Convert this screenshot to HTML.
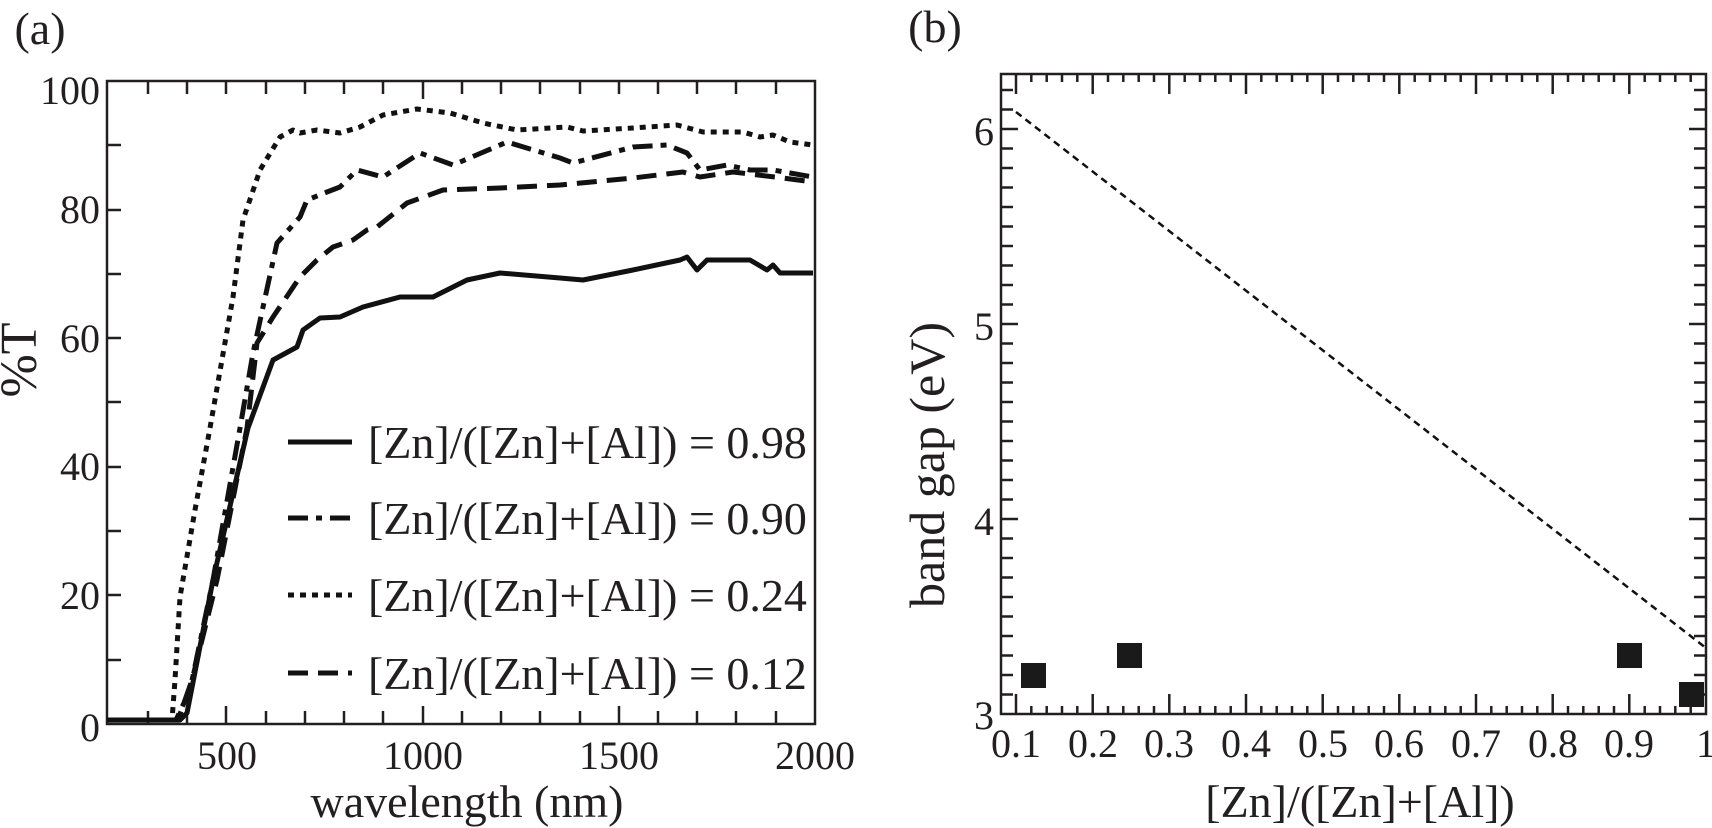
<!DOCTYPE html>
<html><head><meta charset="utf-8"><style>
html,body{margin:0;padding:0;background:#fff;}
svg{display:block;}
text{font-family:"Liberation Serif",serif;fill:#231f20;}
</style></head><body>
<svg width="1712" height="828" viewBox="0 0 1712 828" xmlns="http://www.w3.org/2000/svg">
<g stroke="#231f20" fill="none">
<rect x="107" y="81" width="708" height="643" stroke-width="2.5"/>
<g stroke-width="2.5">
<path d="M 148 724 v-13 M 187 724 v-13 M 226 724 v-18 M 266 724 v-13 M 305 724 v-13 M 344 724 v-13 M 383 724 v-13 M 423 724 v-18 M 462 724 v-13 M 501 724 v-13 M 540 724 v-13 M 580 724 v-13 M 619 724 v-18 M 658 724 v-13 M 697 724 v-13 M 736 724 v-13 M 776 724 v-13"/>
<path d="M 148 81 v13 M 187 81 v13 M 226 81 v13 M 266 81 v13 M 305 81 v13 M 344 81 v13 M 383 81 v13 M 423 81 v18 M 462 81 v13 M 501 81 v13 M 540 81 v13 M 580 81 v13 M 619 81 v13 M 658 81 v13 M 697 81 v13 M 736 81 v13 M 776 81 v13"/>
<path d="M 107 660 h14 M 107 595 h14 M 107 531 h14 M 107 467 h14 M 107 402 h14 M 107 338 h14 M 107 274 h14 M 107 210 h14 M 107 145 h14"/>
</g>
<g stroke="#111" stroke-width="5" stroke-linejoin="round">
<path stroke-dasharray="6 6" d="M107 720 L172 720 L175 680 L180 597 L195 510 L210 428 L233 297 L243 220 L260 170 L280 137 L293 130 L300 133 L317 130 L340 133 L360 127 L383 115 L417 109 L450 113 L483 123 L517 130 L567 127 L583 131 L633 128 L677 125 L703 132 L743 132 L760 137 L773 135 L790 142 L813 145"/>
<path stroke-dasharray="20 8 6 8" d="M107 720 L176 720 L190 690 L213 580 L240 428 L253 353 L277 243 L300 217 L307 200 L327 192 L340 187 L357 170 L383 177 L420 153 L453 165 L507 142 L560 158 L573 163 L633 147 L667 145 L687 153 L700 170 L727 165 L750 170 L773 170 L813 177"/>
<path stroke-dasharray="20 10" d="M107 720 L178 720 L192 680 L217 580 L247 428 L257 343 L273 317 L300 277 L317 260 L333 247 L353 240 L367 230 L377 227 L407 203 L443 190 L500 188 L560 185 L633 178 L683 172 L700 177 L733 172 L783 178 L813 182"/>
<path d="M107 720 L180 720 L187 713 L213 580 L248 428 L273 360 L297 347 L303 330 L320 318 L340 317 L363 307 L400 297 L433 297 L467 280 L500 273 L560 278 L583 280 L633 270 L680 260 L687 257 L697 270 L707 260 L750 260 L767 270 L773 265 L780 273 L813 273"/>
</g>
<g stroke="#111" stroke-width="5">
<path d="M288 442 H352"/>
<path d="M288 518 H352" stroke-dasharray="20 8 6 8"/>
<path d="M288 595 H352" stroke-dasharray="6 6"/>
<path d="M288 673 H352" stroke-dasharray="20 10"/>
</g>

<rect x="1001" y="74" width="705" height="640" stroke-width="2.5"/>
<g stroke-width="2.5">
<path d="
M1016 714 v-20 M1031.3 714 v-8 M1046.7 714 v-8 M1062 714 v-8 M1077.3 714 v-8
M1092.7 714 v-20 M1108 714 v-8 M1123.3 714 v-8 M1138.7 714 v-8 M1154 714 v-8
M1169.3 714 v-20 M1184.7 714 v-8 M1200 714 v-8 M1215.3 714 v-8 M1230.7 714 v-8
M1246 714 v-20 M1261.3 714 v-8 M1276.7 714 v-8 M1292 714 v-8 M1307.3 714 v-8
M1322.7 714 v-20 M1338 714 v-8 M1353.3 714 v-8 M1368.7 714 v-8 M1384 714 v-8
M1399.3 714 v-20 M1414.7 714 v-8 M1430 714 v-8 M1445.3 714 v-8 M1460.7 714 v-8
M1476 714 v-20 M1491.3 714 v-8 M1506.7 714 v-8 M1522 714 v-8 M1537.3 714 v-8
M1552.7 714 v-20 M1568 714 v-8 M1583.3 714 v-8 M1598.7 714 v-8 M1614 714 v-8
M1629.3 714 v-20 M1644.7 714 v-8 M1660 714 v-8 M1675.3 714 v-8 M1690.7 714 v-8"/>
<path transform="translate(0,788) scale(1,-1)" d="
M1016 714 v-20 M1031.3 714 v-8 M1046.7 714 v-8 M1062 714 v-8 M1077.3 714 v-8
M1092.7 714 v-20 M1108 714 v-8 M1123.3 714 v-8 M1138.7 714 v-8 M1154 714 v-8
M1169.3 714 v-20 M1184.7 714 v-8 M1200 714 v-8 M1215.3 714 v-8 M1230.7 714 v-8
M1246 714 v-20 M1261.3 714 v-8 M1276.7 714 v-8 M1292 714 v-8 M1307.3 714 v-8
M1322.7 714 v-20 M1338 714 v-8 M1353.3 714 v-8 M1368.7 714 v-8 M1384 714 v-8
M1399.3 714 v-20 M1414.7 714 v-8 M1430 714 v-8 M1445.3 714 v-8 M1460.7 714 v-8
M1476 714 v-20 M1491.3 714 v-8 M1506.7 714 v-8 M1522 714 v-8 M1537.3 714 v-8
M1552.7 714 v-20 M1568 714 v-8 M1583.3 714 v-8 M1598.7 714 v-8 M1614 714 v-8
M1629.3 714 v-20 M1644.7 714 v-8 M1660 714 v-8 M1675.3 714 v-8 M1690.7 714 v-8"/>
<path d="
M1001 694.5 h12 M1001 675 h12 M1001 655.5 h12 M1001 636 h12 M1001 616.5 h12 M1001 597 h12 M1001 577.5 h12 M1001 558 h12 M1001 538.5 h12 M1001 519 h17
M1001 499.5 h12 M1001 480 h12 M1001 460.5 h12 M1001 441 h12 M1001 421.5 h12 M1001 402 h12 M1001 382.5 h12 M1001 363 h12 M1001 343.5 h12 M1001 324 h17
M1001 304.5 h12 M1001 285 h12 M1001 265.5 h12 M1001 246 h12 M1001 226.5 h12 M1001 207 h12 M1001 187.5 h12 M1001 168 h12 M1001 148.5 h12 M1001 129 h17
M1001 109.5 h12 M1001 90 h12"/>
<path transform="translate(2707,0) scale(-1,1)" d="
M1001 694.5 h12 M1001 675 h12 M1001 655.5 h12 M1001 636 h12 M1001 616.5 h12 M1001 597 h12 M1001 577.5 h12 M1001 558 h12 M1001 538.5 h12 M1001 519 h17
M1001 499.5 h12 M1001 480 h12 M1001 460.5 h12 M1001 441 h12 M1001 421.5 h12 M1001 402 h12 M1001 382.5 h12 M1001 363 h12 M1001 343.5 h12 M1001 324 h17
M1001 304.5 h12 M1001 285 h12 M1001 265.5 h12 M1001 246 h12 M1001 226.5 h12 M1001 207 h12 M1001 187.5 h12 M1001 168 h12 M1001 148.5 h12 M1001 129 h17
M1001 109.5 h12 M1001 90 h12"/>
</g>
<path d="M1016 112 L1706 648" stroke="#111" stroke-width="2.5" stroke-dasharray="7 5"/>
</g>
<g fill="#1a1a1a">
<rect x="1021" y="663" width="25" height="25"/>
<rect x="1117" y="643" width="25" height="25"/>
<rect x="1617" y="643" width="25" height="25"/>
<rect x="1679" y="682" width="25" height="25"/>
</g>

<text x="40" y="44" font-size="46" text-anchor="middle">(a)</text>
<g font-size="40" text-anchor="end">
<text x="100" y="104">100</text>
<text x="100" y="223">80</text>
<text x="100" y="352">60</text>
<text x="100" y="480">40</text>
<text x="100" y="609">20</text>
<text x="100" y="741">0</text>
</g>
<g font-size="40" text-anchor="middle">
<text x="227" y="769">500</text>
<text x="423" y="769">1000</text>
<text x="619" y="769">1500</text>
<text x="815" y="769">2000</text>
</g>
<text x="467" y="817" font-size="46" text-anchor="middle">wavelength (nm)</text>
<text transform="translate(36,360) rotate(-90)" font-size="52" text-anchor="middle">%T</text>
<g font-size="46">
<text x="368" y="458">[Zn]/([Zn]+[Al]) = 0.98</text>
<text x="368" y="534">[Zn]/([Zn]+[Al]) = 0.90</text>
<text x="368" y="611">[Zn]/([Zn]+[Al]) = 0.24</text>
<text x="368" y="689">[Zn]/([Zn]+[Al]) = 0.12</text>
</g>

<text x="935" y="42" font-size="46" text-anchor="middle">(b)</text>
<g font-size="40" text-anchor="end">
<text x="994" y="145">6</text>
<text x="994" y="340">5</text>
<text x="994" y="535">4</text>
<text x="994" y="729">3</text>
</g>
<g font-size="40" text-anchor="middle">
<text x="1016" y="757">0.1</text>
<text x="1093" y="757">0.2</text>
<text x="1169" y="757">0.3</text>
<text x="1246" y="757">0.4</text>
<text x="1323" y="757">0.5</text>
<text x="1399" y="757">0.6</text>
<text x="1476" y="757">0.7</text>
<text x="1553" y="757">0.8</text>
<text x="1629" y="757">0.9</text>
<text x="1706" y="757">1</text>
</g>
<text x="1360" y="817" font-size="46" text-anchor="middle">[Zn]/([Zn]+[Al])</text>
<text transform="translate(944,465) rotate(-90)" font-size="50" text-anchor="middle">band gap (eV)</text>
</svg>
</body></html>
